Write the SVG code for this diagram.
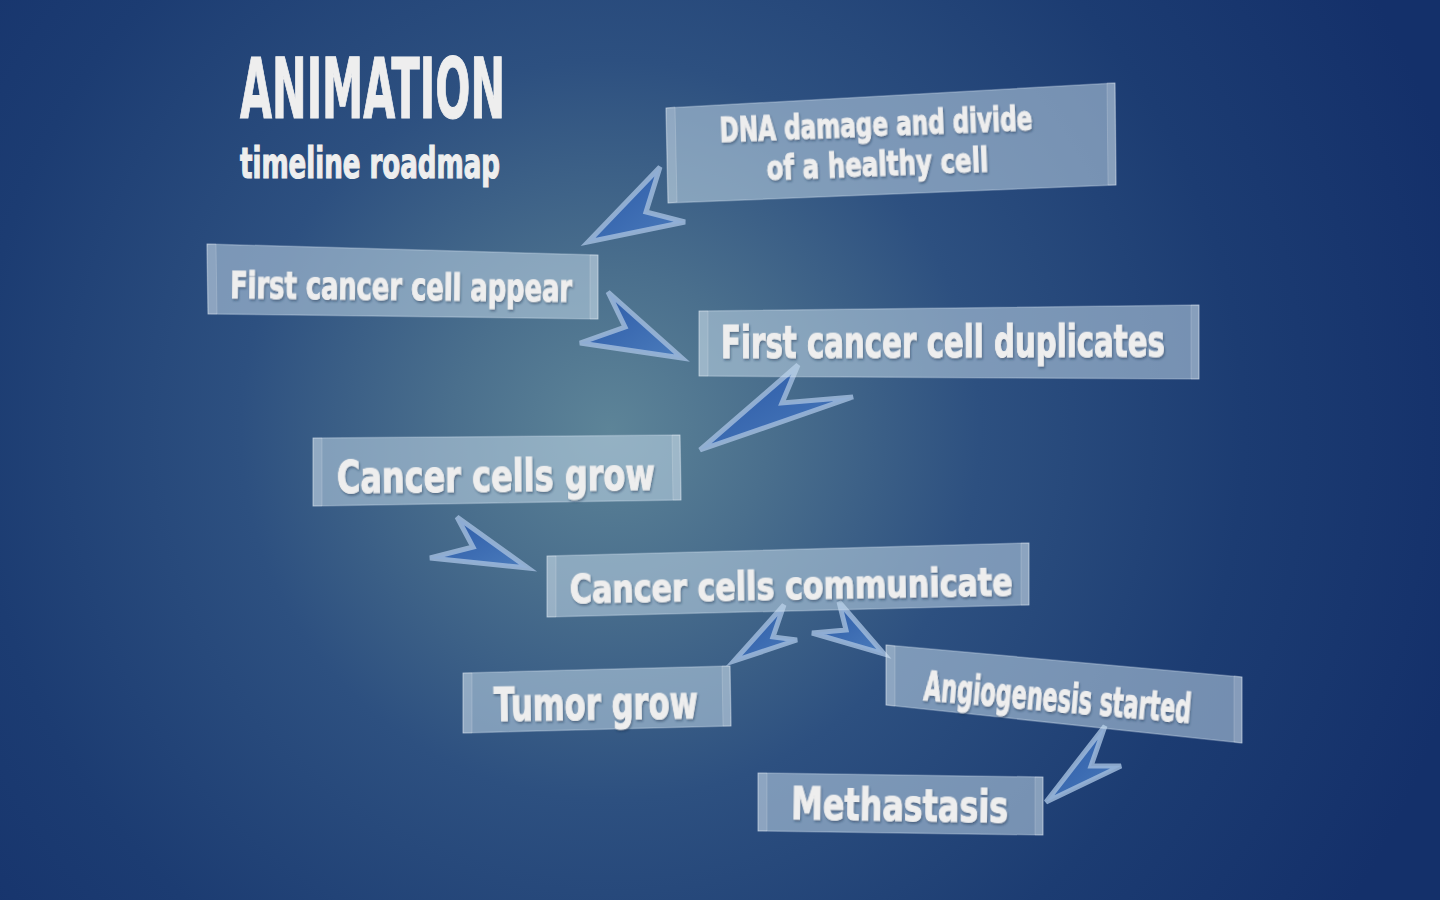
<svg xmlns="http://www.w3.org/2000/svg" width="1440" height="900" viewBox="0 0 1440 900">
<defs>
  <radialGradient id="bg" gradientUnits="userSpaceOnUse" cx="610" cy="430" r="880">
    <stop offset="0" stop-color="#5d8498"/>
    <stop offset="0.18" stop-color="#4a6f8d"/>
    <stop offset="0.42" stop-color="#2d5080"/>
    <stop offset="0.72" stop-color="#1c3c72"/>
    <stop offset="1" stop-color="#14306a"/>
  </radialGradient>
  <linearGradient id="arrowFill" x1="0" y1="0" x2="1" y2="1">
    <stop offset="0" stop-color="#2a58a6"/>
    <stop offset="1" stop-color="#4b7cbc"/>
  </linearGradient>
  <filter id="ts" x="-5%" y="-20%" width="110%" height="150%">
    <feDropShadow dx="1" dy="2" stdDeviation="1" flood-color="#1a2c4a" flood-opacity="0.45"/>
  </filter>
  <style>
    .face{fill:#c8dcec;fill-opacity:0.52;stroke:#dbe8f4;stroke-opacity:0.3;stroke-width:1.5;stroke-linejoin:round}
    .side{fill:#ffffff;fill-opacity:0.13;stroke:#ffffff;stroke-opacity:0.18;stroke-width:1}
    .lbl{font-family:"DejaVu Sans Condensed","DejaVu Sans","Liberation Sans",sans-serif;font-weight:bold;fill:#eeeeee;stroke:#eeeeee;stroke-width:1;filter:url(#ts)}
    .title{font-family:"DejaVu Sans Condensed","DejaVu Sans","Liberation Sans",sans-serif;font-weight:bold;fill:#eeeeee;stroke:#eeeeee;stroke-width:1.2}
    .arr{fill:url(#arrowFill);stroke:#9fbadb;stroke-opacity:0.85;stroke-width:5;stroke-linejoin:miter}
  </style>
</defs>
<rect width="1440" height="900" fill="url(#bg)"/>

<g id="title">
  <text class="title" x="240" y="118" font-size="84" textLength="265" lengthAdjust="spacingAndGlyphs">ANIMATION</text>
  <text class="title" x="240" y="178" font-size="42" textLength="260" lengthAdjust="spacingAndGlyphs">timeline roadmap</text>
</g>

<g id="connectors">
  <polygon class="arr" points="588,242 660,167 646,212 685,222"/>
  <polygon class="arr" points="682,358 608,292 625,327 580,343"/>
  <polygon class="arr" points="700,450 798,365 782,403 853,397"/>
  <polygon class="arr" points="528,568 457,517 473,547 430,558"/>
  <polygon class="arr" points="734,661 784,605 773,637 797,640"/>
  <polygon class="arr" points="884,654 839,602 846,630 812,633"/>
  <polygon class="arr" points="1046,802 1105,726 1091,766 1121,766"/>
</g>

<g id="node-dna">
  <polygon class="face" points="666,108 1115,83 1116,185 668,203"/>
  <polygon class="side" points="666,108 675,107 677,202 668,203"/>
  <polygon class="side" points="1107,83 1115,83 1116,185 1108,185"/>
  <text class="lbl" x="720" y="142" font-size="34" textLength="313" lengthAdjust="spacingAndGlyphs" transform="rotate(-2.2 720 142)">DNA damage and divide</text>
  <text class="lbl" x="767" y="180" font-size="34" textLength="222" lengthAdjust="spacingAndGlyphs" transform="rotate(-2.2 767 180)">of a healthy cell</text>
</g>

<g id="node-appear">
  <polygon class="face" points="207,244 598,255 598,319 208,314"/>
  <polygon class="side" points="207,244 216,244 217,314 208,314"/>
  <polygon class="side" points="590,255 598,255 598,319 590,319"/>
  <text class="lbl" x="230" y="298" font-size="38" textLength="342" lengthAdjust="spacingAndGlyphs" transform="rotate(0.6 230 298)">First cancer cell appear</text>
</g>

<g id="node-duplicates">
  <polygon class="face" points="699,311 1199,305 1199,379 699,376"/>
  <polygon class="side" points="699,311 708,311 708,376 699,376"/>
  <polygon class="side" points="1191,305 1199,305 1199,379 1191,379"/>
  <text class="lbl" x="721" y="358" font-size="44" textLength="444" lengthAdjust="spacingAndGlyphs" transform="rotate(-0.2 721 358)">First cancer cell duplicates</text>
</g>

<g id="node-grow">
  <polygon class="face" points="313,438 680,435 681,500 313,506"/>
  <polygon class="side" points="313,438 322,438 322,506 313,506"/>
  <polygon class="side" points="672,435 680,435 681,500 673,500"/>
  <text class="lbl" x="337" y="493" font-size="45" textLength="318" lengthAdjust="spacingAndGlyphs" transform="rotate(-0.6 337 493)">Cancer cells grow</text>
</g>

<g id="node-communicate">
  <polygon class="face" points="547,556 1029,543 1029,605 547,617"/>
  <polygon class="side" points="547,556 556,556 556,617 547,617"/>
  <polygon class="side" points="1021,543 1029,543 1029,605 1021,605"/>
  <text class="lbl" x="570" y="603" font-size="39" textLength="443" lengthAdjust="spacingAndGlyphs" transform="rotate(-1.0 570 603)">Cancer cells communicate</text>
</g>

<g id="node-tumor">
  <polygon class="face" points="463,673 730,666 731,726 463,733"/>
  <polygon class="side" points="463,673 472,673 472,733 463,733"/>
  <polygon class="side" points="722,666 730,666 731,726 723,726"/>
  <text class="lbl" x="494" y="721" font-size="46" textLength="204" lengthAdjust="spacingAndGlyphs" transform="rotate(-0.8 494 721)">Tumor grow</text>
</g>

<g id="node-angiogenesis">
  <polygon class="face" points="886,645 1242,677 1242,743 886,705"/>
  <polygon class="side" points="886,645 895,646 895,706 886,705"/>
  <polygon class="side" points="1234,676 1242,677 1242,743 1234,742"/>
  <text class="lbl" x="923" y="700" font-size="41" textLength="268" lengthAdjust="spacingAndGlyphs" transform="rotate(4.9 923 700)">Angiogenesis started</text>
</g>

<g id="node-methastasis">
  <polygon class="face" points="758,773 1043,777 1043,835 758,831"/>
  <polygon class="side" points="758,773 767,773 767,831 758,831"/>
  <polygon class="side" points="1035,777 1043,777 1043,835 1035,835"/>
  <text class="lbl" x="791" y="819" font-size="45" textLength="217" lengthAdjust="spacingAndGlyphs" transform="rotate(0.9 791 819)">Methastasis</text>
</g>
</svg>
